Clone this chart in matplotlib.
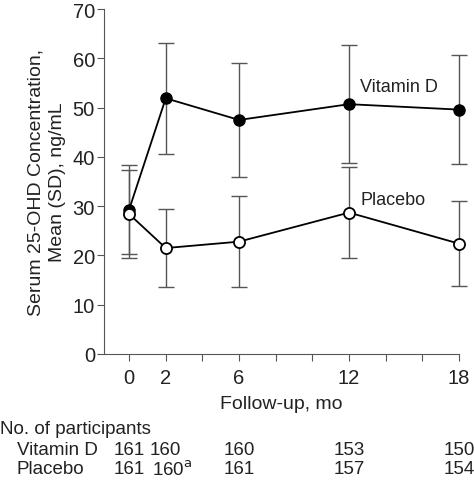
import numpy as np
import matplotlib
matplotlib.use("Agg")
import matplotlib.pyplot as plt

plt.rcParams['font.family'] = ['Liberation Sans', 'DejaVu Sans']

# data
months = [0, 2, 6, 12, 18]
vitd_mean = [29.3, 51.9, 47.5, 50.7, 49.6]
vitd_sd = [9.1, 11.3, 11.6, 12.0, 11.0]
plac_mean = [28.4, 21.5, 22.8, 28.7, 22.4]
plac_sd = [8.9, 8.0, 9.2, 9.3, 8.7]
n_vitd = ["161", "160", "160", "153", "150"]
n_plac = ["161", "160$^{\\mathrm{a}}$", "161", "157", "154"]

grey = "#555555"
txt = "#222222"
fig = plt.figure(figsize=(4.74, 4.81), dpi=100)
ax = fig.add_axes([0.2194, 0.262, 0.7489, 0.717])

for mean, sd in [(vitd_mean, vitd_sd), (plac_mean, plac_sd)]:
    eb = ax.errorbar(months, mean, yerr=sd, fmt="none", ecolor=grey,
                     elinewidth=1, capsize=6, capthick=1, zorder=1)
    for art in eb.lines[1] + eb.lines[2]:
        art.set_clip_on(False)
ax.plot(months, vitd_mean, "-o", color="black", lw=1.3, ms=8,
        mfc="black", mec="black", zorder=3, clip_on=False)
ax.plot(months, plac_mean, "-o", color="black", lw=1.3, ms=8,
        mfc="white", mec="black", mew=1.3, zorder=3, clip_on=False)

ax.text(12.6, 54.2, "Vitamin D", fontsize=13, color=txt, va="center")
ax.text(12.6, 31.4, "Placebo", fontsize=13, color=txt, va="center")

ax.set_xlim(-1.37, 18)
ax.set_ylim(0, 70)
ax.set_yticks(range(0, 71, 10))
ax.set_xticks(range(0, 19, 2))
ax.set_xticklabels([str(m) if m in months else "" for m in range(0, 19, 2)])
for s in ["top", "right"]:
    ax.spines[s].set_visible(False)
for s in ["left", "bottom"]:
    ax.spines[s].set_color(grey)
ax.tick_params(colors=grey, labelcolor=txt, labelsize=14.5, length=5)
ax.tick_params(axis="y", pad=1.5)
ax.tick_params(axis="x", pad=5)
ax.set_xlabel("Follow-up, mo", fontsize=14, color=txt, labelpad=6)
ax.set_ylabel("Serum 25-OHD Concentration,\nMean (SD), ng/mL",
              fontsize=14, color=txt, labelpad=5, linespacing=1.35)

# participants table
ts = 13.5
fig.text(0.0, 1 - 430 / 481, "No. of participants", fontsize=ts,
         color=txt, va="center")
fig.text(17 / 474, 1 - 451 / 481, "Vitamin D", fontsize=ts,
         color=txt, va="center")
fig.text(17 / 474, 1 - 470 / 481, "Placebo", fontsize=ts,
         color=txt, va="center")
for m, a, b in zip(months, n_vitd, n_plac):
    xf = fig.transFigure.inverted().transform(ax.transData.transform((m, 0)))[0]
    fig.text(xf, 1 - 451 / 481, a, fontsize=ts, color=txt,
             ha="center", va="center")
    if "^" in b:
        fig.text(xf - 13.5 / 474, 1 - 470 / 481, b, fontsize=ts,
                 color=txt, ha="left", va="center")
    else:
        fig.text(xf, 1 - 470 / 481, b, fontsize=ts, color=txt,
                 ha="center", va="center")

fig.savefig("out.png", dpi=100)
